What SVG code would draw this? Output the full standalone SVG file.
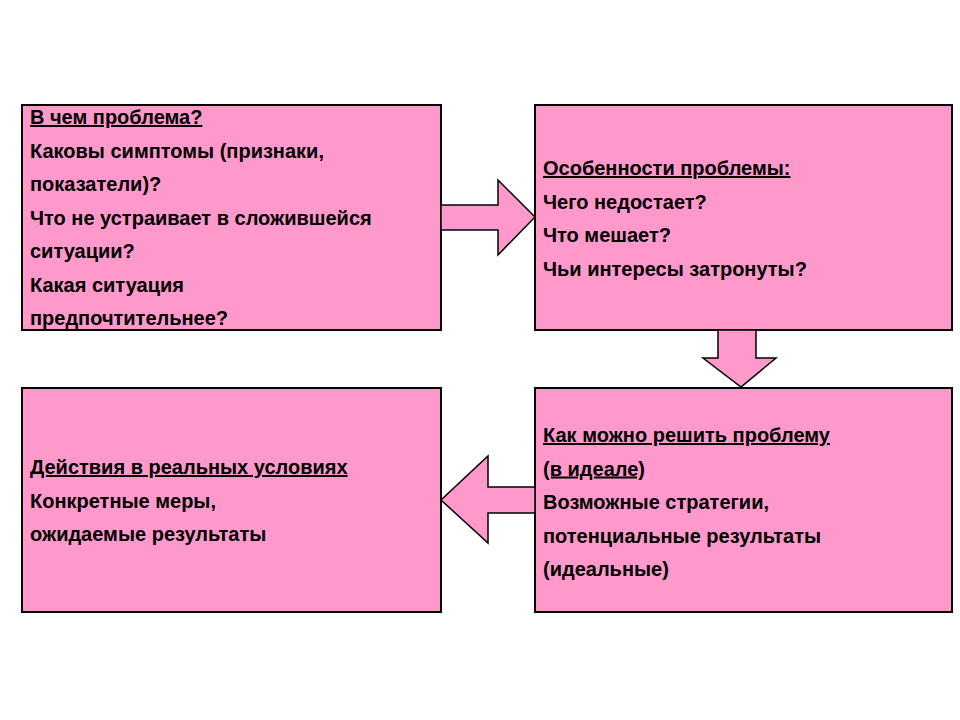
<svg xmlns="http://www.w3.org/2000/svg" width="960" height="720" viewBox="0 0 960 720">
<style>
.box{fill:#FF99CC;stroke:#000;stroke-width:2}
.arr{fill:#FF99CC;stroke:#000;stroke-width:1.5}
text{font-family:"Liberation Sans",Arial,sans-serif;font-size:20px;font-weight:bold;fill:#000}
.u{text-decoration:underline}
</style>
<rect width="960" height="720" fill="#fff"/>
<g id="n1"><rect class="box" x="22" y="105" width="419" height="225"/>
<text x="30" y="124"><tspan class="u">В чем проблема?</tspan><tspan x="30" dy="33.5">Каковы симптомы (признаки,</tspan><tspan x="30" dy="33.5">показатели)?</tspan><tspan x="30" dy="33.5">Что не устраивает в сложившейся</tspan><tspan x="30" dy="33.5">ситуации?</tspan><tspan x="30" dy="33.5">Какая ситуация</tspan><tspan x="30" dy="33.5">предпочтительнее?</tspan></text></g>
<g id="n2"><rect class="box" x="535" y="105" width="417" height="225"/>
<text x="543" y="175"><tspan class="u">Особенности проблемы:</tspan><tspan x="543" dy="33.5">Чего недостает?</tspan><tspan x="543" dy="33.5">Что мешает?</tspan><tspan x="543" dy="33.5">Чьи интересы затронуты?</tspan></text></g>
<g id="n3"><rect class="box" x="22" y="388" width="419" height="224"/>
<text x="30" y="474"><tspan class="u">Действия в реальных условиях</tspan><tspan x="30" dy="33.5">Конкретные меры,</tspan><tspan x="30" dy="33.5">ожидаемые результаты</tspan></text></g>
<g id="n4"><rect class="box" x="535" y="388" width="417" height="224"/>
<text x="543" y="442"><tspan class="u">Как можно решить проблему</tspan><tspan x="543" dy="33.5" class="u">(в идеале)</tspan><tspan x="543" dy="33.5">Возможные стратегии,</tspan><tspan x="543" dy="33.5">потенциальные результаты</tspan><tspan x="543" dy="33.5">(идеальные)</tspan></text></g>
<g id="connectors">
<polygon class="arr" points="441,205 498,205 498,180 535,217 498,255 498,230 441,230"/>
<polygon class="arr" points="718,330 756,330 756,358 776,358 741,387 703,358 718,358"/>
<polygon class="arr" points="535,487 488,487 488,456 441,500 488,543 488,513 535,513"/>
</g>
</svg>
